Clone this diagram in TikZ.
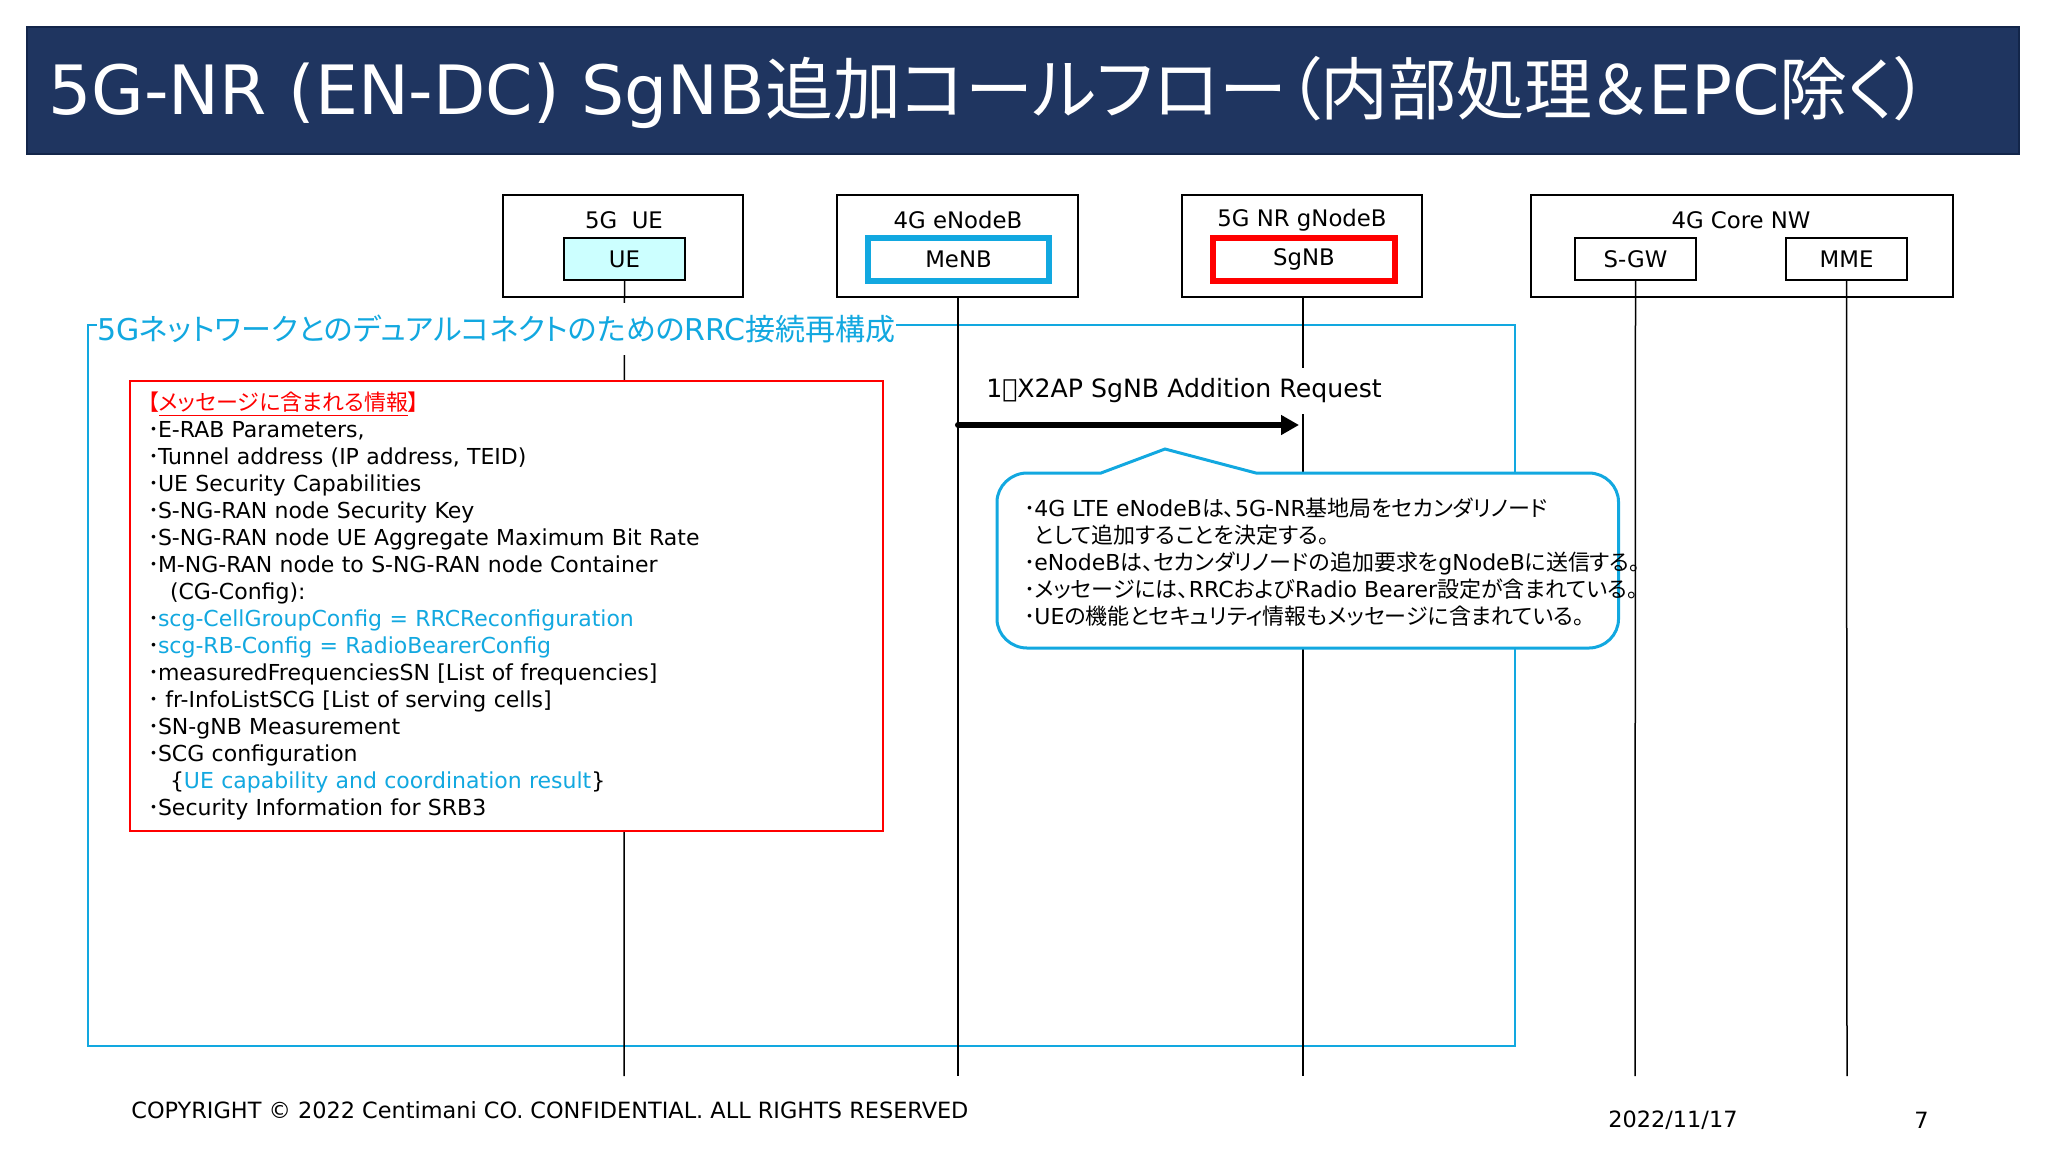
\documentclass[tikz,border=0pt]{standalone}
\usepackage{fontspec}
\usetikzlibrary{fit,arrows.meta}
\setmainfont{DejaVu Sans}
\newfontfamily\jpf[CharacterWidth=AlternateProportional]{Noto Sans CJK JP}
\newcommand\J[1]{{\jpf #1}}
\newcommand\Bu{{\jpf ･}\kern-0.5pt}
\definecolor{navy}{HTML}{1F3560}
\definecolor{navyedge}{HTML}{13264A}
\definecolor{sky}{HTML}{12A8E0}
\definecolor{pale}{HTML}{CCFFFF}
\tikzset{
  x=0.5pt,y=-0.5pt,
  box/.style={draw=black,line width=1pt,inner sep=0pt,fill=white,font=\fontsize{11.4}{13}\selectfont},
  menestyle/.style={box,draw=sky,line width=2.6pt},
  senestyle/.style={box,draw=red,line width=2.6pt},
  uebox/.style={box,fill=pale},
  boxcaption/.style={inner sep=0pt,font=\fontsize{11.4}{13}\selectfont},
  life/.style={draw=black,line width=0.75pt},
  msgarrow/.style={draw=black,line width=3pt,line cap=round,-{Triangle[length=9pt,width=9.5pt]}},
  footer/.style={inner sep=0pt,font=\fontsize{11.2}{13}\selectfont}
}
\begin{document}
\begin{tikzpicture}
\useasboundingbox (0,0) rectangle (2048,1152);
% title
\node[fill=navy,draw=navyedge,line width=1pt,inner sep=0pt,fit={(27,27)(2019,154)}] (titlebar) {};
\node[anchor=west,text=white,inner sep=0pt,font=\fontsize{34}{40}\selectfont] (title) at (48,92) {5G-NR (EN-DC) SgNB\J{追加コールフロー（内部処理＆}EPC\J{除く）}};
% coloured frame
\draw[draw=sky,line width=1pt] (88,325) rectangle (1514.5,1046);
% participants
\node[box,fit={(503,195)(743,297)}] (ueo) {};
\node[box,fit={(837,195)(1078,297)}] (menbo) {};
\node[box,fit={(1182,195)(1422,297)}] (sgnbo) {};
\node[box,fit={(1531,195)(1953,297)}] (coreo) {};
\node[boxcaption] (uet) at (624,220) {5G\ \ UE};
\node[boxcaption] (menbt) at (958,220) {4G eNodeB};
\node[boxcaption] (sgnbt) at (1302,220) {5G NR gNodeB};
\node[boxcaption] (coret) at (1741,220) {4G Core NW};
\node[uebox,fit={(564,238)(685,280)}] (ue) {};
\node[menestyle,fit={(868,238)(1049,281)}] (menb) {};
\node[senestyle,fit={(1213,238)(1395,281)}] (sgnb) {};
\node[box,fit={(1575,238)(1696,280)}] (sgw) {};
\node[box,fit={(1786,238)(1907,280)}] (mme) {};
\node[boxcaption] (uel) at (ue.center) {UE};
\node[boxcaption] (menbl) at (menb.center) {MeNB};
\node[boxcaption] (sgnbl) at (sgnb.center) {SgNB};
\node[boxcaption] (sgwl) at (sgw.center) {S-GW};
\node[boxcaption] (mmel) at (mme.center) {MME};
% lifelines
\coordinate (uee) at (624,1076);
\coordinate (menbe) at (958,1076);
\coordinate (sgnbe) at (1303,1076);
\coordinate (sgwe) at (1635,1076);
\coordinate (mmee) at (1847,1076);
\draw[life] (ue.south) -- (uee);
\draw[life] (menbo.south -| menbe) -- (menbe);
\draw[life] (sgnbo.south -| sgnbe) -- (sgnbe);
\draw[life] (sgw.south) -- (sgwe);
\draw[life] (mme.south) -- (mmee);
% frame title
\node[fill=white,inner sep=0pt,minimum width=385.5pt,minimum height=26pt,text=sky,font=\fontsize{15}{18}\selectfont] (frametitle) at (496.5,329) {5G\J{ネットワークとのデュアルコネクトのための}RRC\J{接続再構成}};
% information box
\node[draw=red,line width=1pt,fill=white,inner ysep=0pt,inner xsep=9pt,minimum height=225pt,text width=358.5pt,align=left,font=\fontsize{11}{13.5}\selectfont] (info) at (506.5,606) {%
\textcolor{red}{\J{【\underline{メッセージに含まれる情報}】}}\\
\Bu E-RAB Parameters,\\
\Bu Tunnel address (IP address, TEID)\\
\Bu UE Security Capabilities\\
\Bu S-NG-RAN node Security Key\\
\Bu S-NG-RAN node UE Aggregate Maximum Bit Rate\\
\Bu M-NG-RAN node to S-NG-RAN node Container\\
\hspace*{11pt}(CG-Config):\\
\Bu\textcolor{sky}{scg-CellGroupConfig = RRCReconfiguration}\\
\Bu\textcolor{sky}{scg-RB-Config = RadioBearerConfig}\\
\Bu measuredFrequenciesSN [List of frequencies]\\
\Bu\ fr-InfoListSCG [List of serving cells]\\
\Bu SN-gNB Measurement\\
\Bu SCG configuration\\
\hspace*{11pt}\{\textcolor{sky}{UE capability and coordination result}\}\\
\Bu Security Information for SRB3};
% message
\node[fill=white,inner sep=0pt,minimum height=23pt,font=\fontsize{12.6}{15}\selectfont] (msgl) at (1184,391) {1：X2AP SgNB Addition Request};
\coordinate (ms) at (958,425);
\coordinate (mt) at (1299,425);
\draw[msgarrow] (ms) -- (mt);
% callout
\draw[draw=sky,line width=1.5pt,fill=white] (1027,473) -- (1101,473) -- (1165,449) -- (1256,473) -- (1589,473)
  .. controls (1605,473) and (1618.5,486) .. (1618.5,502) -- (1618.5,619)
  .. controls (1618.5,635) and (1605,648) .. (1589,648) -- (1027,648)
  .. controls (1011,648) and (997,635) .. (997,619) -- (997,502)
  .. controls (997,486) and (1011,473) .. (1027,473) -- cycle;
\node[anchor=west,inner sep=0pt,align=left,font=\fontsize{11}{13.5}\selectfont] (note) at (1024,562) {%
\Bu 4G LTE eNodeB\J{は、}5G-NR\J{基地局をセカンダリノード}\\
\hspace*{5pt}\J{として追加することを決定する。}\\
\Bu eNodeB\J{は、セカンダリノードの追加要求を}gNodeB\J{に送信する。}\\
\Bu\J{メッセージには、}RRC\J{および}Radio Bearer\J{設定が含まれている。}\\
\Bu UE\J{の機能とセキュリティ情報もメッセージに含まれている。}};
% footer
\node[anchor=west,footer] (copy) at (131,1110) {COPYRIGHT © 2022 Centimani CO. CONFIDENTIAL. ALL RIGHTS RESERVED};
\node[anchor=west,footer] (date) at (1608,1120) {2022/11/17};
\node[anchor=west,footer] (page) at (1914,1120) {7};
\end{tikzpicture}
\end{document}
